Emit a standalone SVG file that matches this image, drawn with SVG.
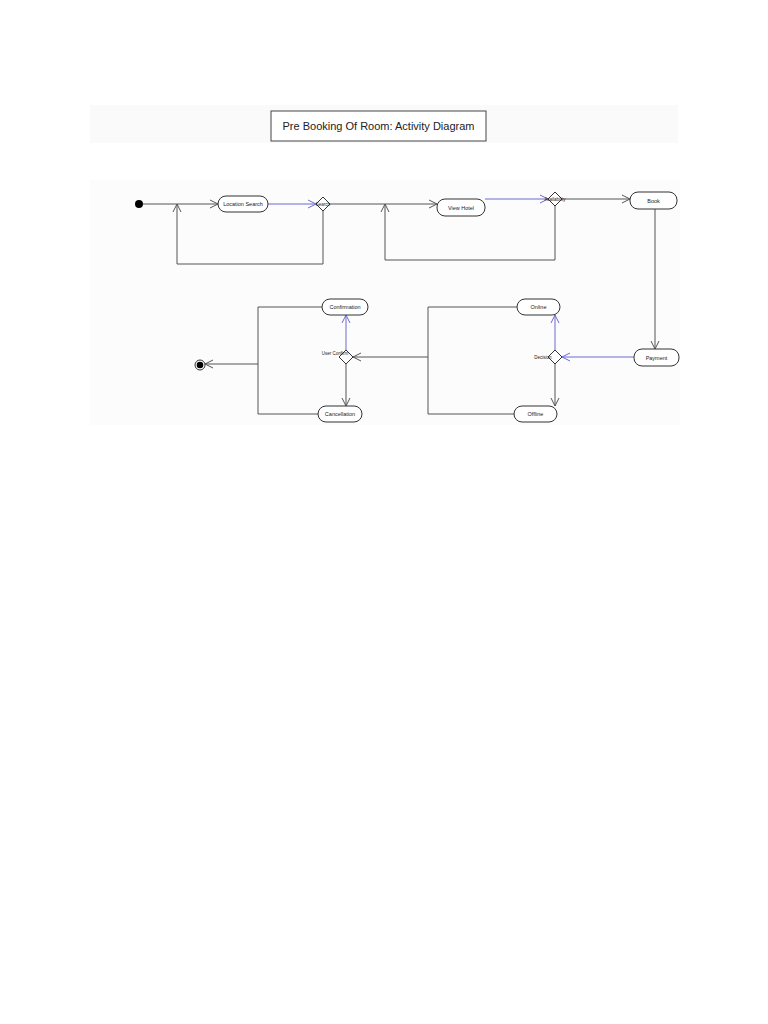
<svg xmlns="http://www.w3.org/2000/svg" width="768" height="1024" viewBox="0 0 768 1024">
<defs>
<marker id="a" markerWidth="10" markerHeight="10" refX="9" refY="5" orient="auto" markerUnits="userSpaceOnUse"><path d="M1,1 L9,5 L1,9" fill="none" stroke="#555" stroke-width="1"/></marker>
<marker id="b" markerWidth="10" markerHeight="10" refX="9" refY="5" orient="auto" markerUnits="userSpaceOnUse"><path d="M1,1 L9,5 L1,9" fill="none" stroke="#6a6ad0" stroke-width="1"/></marker>
</defs>
<style>
.n rect{fill:#fff;stroke:#333;stroke-width:1}
.n text{font-family:"Liberation Sans",Arial,sans-serif;font-size:5.5px;fill:#222;text-anchor:middle}
.d polygon{fill:#fff;stroke:#333;stroke-width:1}
.d text{font-family:"Liberation Sans",Arial,sans-serif;font-size:4.5px;fill:#222;text-anchor:middle}
.c path{fill:none;stroke:#555;stroke-width:1}
.c .bl{stroke:#6a6ad0}
</style>
<rect width="768" height="1024" fill="#fff"/>
<rect x="90" y="105" width="588" height="38" fill="#fafafa"/>
<rect x="90" y="180" width="590" height="245" fill="#fcfcfc"/>
<g id="title"><rect x="271" y="111" width="215" height="30" fill="#fff" stroke="#444"/>
<text x="378.5" y="130" font-family="Liberation Sans,Arial,sans-serif" font-size="11" text-anchor="middle" fill="#222">Pre Booking Of Room: Activity Diagram</text></g>
<g class="c" id="connectors">
<path d="M143,204 H218" marker-end="url(#a)"/>
<path class="bl" d="M268,204 H316" marker-end="url(#b)"/>
<path d="M323,211 V264 H177 V204" marker-end="url(#a)"/>
<path d="M330,204 H437" marker-end="url(#a)"/>
<path class="bl" d="M485,199 H548" marker-end="url(#b)"/>
<path d="M555,206 V260 H385 V204" marker-end="url(#a)"/>
<path d="M562,199 H630" marker-end="url(#a)"/>
<path d="M655,208 V349" marker-end="url(#a)"/>
<path class="bl" d="M634,357 H562" marker-end="url(#b)"/>
<path class="bl" d="M555,350 V315" marker-end="url(#b)"/>
<path d="M555,364 V406" marker-end="url(#a)"/>
<path d="M517,307 H428 V414 H514 M428,357 H353" marker-end="url(#a)"/>
<path class="bl" d="M346,350 V315" marker-end="url(#b)"/>
<path d="M346,364 V406" marker-end="url(#a)"/>
<path d="M322,307 H258 V414 H318 M258,364 H205" marker-end="url(#a)"/>
</g>
<g id="start"><circle cx="139" cy="204" r="4" fill="#000"/></g>
<g id="end"><circle cx="200" cy="365" r="5" fill="#fff" stroke="#333"/><circle cx="200" cy="365" r="3.3" fill="#000"/></g>
<g class="n" id="location-search"><rect x="218" y="196" width="50" height="16" rx="8"/><text x="243" y="206">Location Search</text></g>
<g class="n" id="view-hotel"><rect x="437" y="199" width="48" height="17" rx="8"/><text x="461" y="209.5">View Hotel</text></g>
<g class="n" id="book"><rect x="630" y="192" width="47" height="17" rx="8"/><text x="653.5" y="202.5">Book</text></g>
<g class="n" id="payment"><rect x="634" y="349" width="45" height="17" rx="8"/><text x="656.5" y="359.5">Payment</text></g>
<g class="n" id="online"><rect x="517" y="299" width="43" height="16" rx="8"/><text x="538.5" y="309">Online</text></g>
<g class="n" id="offline"><rect x="514" y="406" width="43" height="16" rx="8"/><text x="535.5" y="416">Offline</text></g>
<g class="n" id="confirmation"><rect x="322" y="299" width="46" height="16" rx="8"/><text x="345" y="309">Confirmation</text></g>
<g class="n" id="cancellation"><rect x="318" y="406" width="44" height="16" rx="8"/><text x="340" y="416">Cancellation</text></g>
<g class="d" id="d-search"><polygon points="323,197 330,204 323,211 316,204"/><text x="323" y="205.5">Search</text></g>
<g class="d" id="d-available"><polygon points="555,192 562,199 555,206 548,199"/><text x="555" y="200.5">Availability</text></g>
<g class="d" id="d-payment"><polygon points="555,350 562,357 555,364 548,357"/><text x="543" y="358.5">Decision</text></g>
<g class="d" id="d-confirm"><polygon points="346,350 353,357 346,364 339,357"/><text x="335" y="355">User Confirm</text></g>
</svg>
